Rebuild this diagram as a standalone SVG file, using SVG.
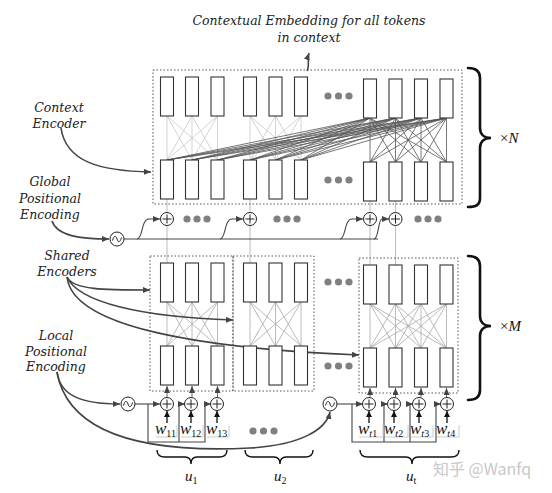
<svg xmlns="http://www.w3.org/2000/svg" width="552" height="493" viewBox="0 0 552 493">
<defs>
<style>
.lbl{font-family:"DejaVu Serif","Liberation Serif",serif;font-style:italic;font-size:12.5px;fill:#222;text-anchor:middle}
.math{font-family:"Liberation Serif",serif;font-style:italic;fill:#111}
.sub{font-family:"Liberation Serif",serif;font-style:normal;font-size:10px}
.blk{fill:#fff;stroke:#333;stroke-width:1.1}
.dbox{fill:none;stroke:#444;stroke-width:0.9;stroke-dasharray:1.5,2}
.dot{fill:#808080}
.lt{fill:none;stroke:#c8c8c8;stroke-width:0.8}
.md{fill:none;stroke:#aaa;stroke-width:0.8}
.dk{fill:none;stroke:#555;stroke-width:0.8}
.wire{fill:none;stroke:#444;stroke-width:1.1}
.curve{fill:none;stroke:#444;stroke-width:1.6}
.brace{fill:none;stroke:#111;stroke-width:2.6;stroke-linecap:round}
.ubrace{fill:none;stroke:#111;stroke-width:1.4}
.plus{fill:#fff;stroke:#222;stroke-width:1}
.shade{fill:none;stroke:#ccc;stroke-width:1}
</style>
<marker id="ah" markerWidth="7" markerHeight="6" refX="7" refY="3" orient="auto" markerUnits="userSpaceOnUse"><path d="M0,0L7,3L0,6z" fill="#444"/></marker>
<marker id="ahb" markerWidth="6" markerHeight="6" refX="6" refY="3" orient="auto" markerUnits="userSpaceOnUse"><path d="M0,0L6,3L0,6z" fill="#111"/></marker>
<g id="op"><circle r="6.5" class="plus"/><path d="M-4.5,0H4.5M0,-4.5V4.5" stroke="#222" stroke-width="1"/></g>
<g id="sine"><circle r="7" class="plus"/><path d="M-4.5,1.5C-3,-4 -1,-3.5 0,0C1,3.5 3,4 4.5,-1.5" fill="none" stroke="#222" stroke-width="1"/></g>
</defs>
<rect width="552" height="493" fill="#fff"/>

<g id="connectors">
<!-- top encoder internal -->
<path class="lt" d="M167,160L167,116M167,160L192,116M167,160L217.5,116M192,160L167,116M192,160L192,116M192,160L217.5,116M217.5,160L167,116M217.5,160L192,116M217.5,160L217.5,116"/>
<path class="lt" d="M250,160L250,116M250,160L275.5,116M250,160L301,116M275.5,160L250,116M275.5,160L275.5,116M275.5,160L301,116M301,160L250,116M301,160L275.5,116M301,160L301,116"/>
<path class="dk" d="M370,162L370,118M370,162L395.5,118M370,162L421,118M370,162L446.5,118M395.5,162L370,118M395.5,162L395.5,118M395.5,162L421,118M395.5,162L446.5,118M421,162L370,118M421,162L395.5,118M421,162L421,118M421,162L446.5,118M446.5,162L370,118M446.5,162L395.5,118M446.5,162L421,118M446.5,162L446.5,118"/>
<path class="dk" d="M370,118L167,160M370,118L192,160M370,118L217.5,160M370,118L250,160M370,118L275.5,160M370,118L301,160M395.5,118L167,160M395.5,118L192,160M395.5,118L217.5,160M395.5,118L250,160M395.5,118L275.5,160M395.5,118L301,160M421,118L167,160M421,118L192,160M421,118L217.5,160M421,118L250,160M421,118L275.5,160M421,118L301,160M446.5,118L167,160M446.5,118L192,160M446.5,118L217.5,160M446.5,118L250,160M446.5,118L275.5,160M446.5,118L301,160"/>
<!-- lower encoders internal -->
<path class="md" d="M167,346L167,302M167,346L192,302M167,346L217.5,302M192,346L167,302M192,346L192,302M192,346L217.5,302M217.5,346L167,302M217.5,346L192,302M217.5,346L217.5,302"/>
<path class="md" d="M250,346L250,302M250,346L275.5,302M250,346L301,302M275.5,346L250,302M275.5,346L275.5,302M275.5,346L301,302M301,346L250,302M301,346L275.5,302M301,346L301,302"/>
<path class="md" d="M370,348L370,304M370,348L395.5,304M370,348L421,304M370,348L446.5,304M395.5,348L370,304M395.5,348L395.5,304M395.5,348L421,304M395.5,348L446.5,304M421,348L370,304M421,348L395.5,304M421,348L421,304M421,348L446.5,304M446.5,348L370,304M446.5,348L395.5,304M446.5,348L421,304M446.5,348L446.5,304"/>
<!-- vertical links between encoders -->
<path class="md" d="M167,199V263M250,199V263M370,201V265M395.5,201V265"/>
<!-- global positional wiring -->
<path class="wire" d="M124,239H378"/>
<path class="wire" marker-end="url(#ah)" d="M137,239C143,239 141,219 149,219H160"/>
<path class="wire" marker-end="url(#ah)" d="M220,239C226,239 224,219 232,219H243"/>
<path class="wire" marker-end="url(#ah)" d="M340,239C346,239 344,219 352,219H363"/>
<path class="wire" marker-end="url(#ah)" d="M374,239C379,239 378,219 382,219H389"/>
<!-- local positional wiring u1 -->
<path class="wire" marker-end="url(#ah)" d="M135,404H160"/>
<path class="wire" d="M148,404V442H205V404M179,442V404"/>
<path class="wire" marker-end="url(#ah)" d="M179,404H185"/>
<path class="wire" marker-end="url(#ah)" d="M205,404H211"/>
<!-- local positional wiring ut -->
<path class="wire" marker-end="url(#ah)" d="M337,404H363"/>
<path class="wire" d="M352,404V442H436V404M384,442V404M410,442V404"/>
<path class="wire" marker-end="url(#ah)" d="M384,404H388"/>
<path class="wire" marker-end="url(#ah)" d="M410,404H413"/>
<path class="wire" marker-end="url(#ah)" d="M436,404H441"/>
<!-- word inputs up to plus -->
<g stroke="#111" stroke-width="1.3" marker-end="url(#ahb)">
<path d="M167,423V411"/><path d="M191,423V411"/><path d="M217,423V411"/>
<path d="M369,423V411"/><path d="M394,423V411"/><path d="M419,423V411"/><path d="M447,423V411"/>
</g>
<!-- plus up to encoder blocks -->
<g stroke="#666" stroke-width="1" marker-end="url(#ah)">
<path d="M167,397V386"/><path d="M192,397V386"/><path d="M217.5,397V386"/>
<path d="M370,397V388"/><path d="M395.5,397V388"/><path d="M421,397V388"/><path d="M446.5,397V388"/>
</g>
<!-- label curves -->
<path class="curve" marker-end="url(#ah)" d="M61,128C66,162 100,171 151,172"/>
<path class="curve" marker-end="url(#ah)" d="M52,221C57,236 80,239 109,239"/>
<path class="curve" marker-end="url(#ah)" d="M67,277C73,290 105,290 150,290"/>
<path class="curve" marker-end="url(#ah)" d="M67,277C78,302 140,317 233,320"/>
<path class="curve" marker-end="url(#ah)" d="M67,277C72,325 190,348 359,355"/>
<path class="curve" marker-end="url(#ah)" d="M57,372C60,395 80,404 120,404"/>
<path class="curve" marker-end="url(#ah)" d="M57,372C70,445 170,452 250,448C300,445 326,430 330,412"/>
<path class="curve" stroke-width="1.3" marker-end="url(#ah)" d="M307,71C310,65 307,59 309,53"/>
</g>

<g id="title">
<text class="lbl" x="309" y="25">Contextual Embedding for all tokens</text>
<text class="lbl" x="309" y="42">in context</text>
</g>
<g id="label-context-encoder">
<text class="lbl" x="59" y="112">Context</text>
<text class="lbl" x="59" y="128">Encoder</text>
</g>
<g id="label-global-pe">
<text class="lbl" x="50" y="186">Global</text>
<text class="lbl" x="50" y="203">Positional</text>
<text class="lbl" x="50" y="219">Encoding</text>
</g>
<g id="label-shared">
<text class="lbl" x="67" y="260">Shared</text>
<text class="lbl" x="67" y="276">Encoders</text>
</g>
<g id="label-local-pe">
<text class="lbl" x="56" y="340">Local</text>
<text class="lbl" x="56" y="356">Positional</text>
<text class="lbl" x="56" y="371">Encoding</text>
</g>

<g id="context-encoder">
<rect class="dbox" x="153" y="70" width="309" height="134"/>
<g>
<rect class="blk" x="160.5" y="77" width="13" height="39"/><rect class="blk" x="185.5" y="77" width="13" height="39"/><rect class="blk" x="211" y="77" width="13" height="39"/>
<rect class="blk" x="243.5" y="77" width="13" height="39"/><rect class="blk" x="269" y="77" width="13" height="39"/><rect class="blk" x="294.5" y="77" width="13" height="39"/>
<rect class="blk" x="363.5" y="79" width="13" height="39"/><rect class="blk" x="389" y="79" width="13" height="39"/><rect class="blk" x="414.5" y="79" width="13" height="39"/><rect class="blk" x="440" y="79" width="13" height="39"/>
</g>
<g>
<rect class="blk" x="160.5" y="160" width="13" height="39"/><rect class="blk" x="185.5" y="160" width="13" height="39"/><rect class="blk" x="211" y="160" width="13" height="39"/>
<rect class="blk" x="243.5" y="160" width="13" height="39"/><rect class="blk" x="269" y="160" width="13" height="39"/><rect class="blk" x="294.5" y="160" width="13" height="39"/>
<rect class="blk" x="363.5" y="162" width="13" height="39"/><rect class="blk" x="389" y="162" width="13" height="39"/><rect class="blk" x="414.5" y="162" width="13" height="39"/><rect class="blk" x="440" y="162" width="13" height="39"/>
</g>
<circle class="dot" cx="328" cy="96" r="3.6"/><circle class="dot" cx="338.5" cy="96" r="3.6"/><circle class="dot" cx="349" cy="96" r="3.6"/>
<circle class="dot" cx="328" cy="180" r="3.6"/><circle class="dot" cx="338.5" cy="180" r="3.6"/><circle class="dot" cx="349" cy="180" r="3.6"/>
</g>

<g id="global-pe">
<use href="#sine" x="117" y="239"/>
<use href="#op" x="167" y="219"/>
<use href="#op" x="250" y="219"/>
<use href="#op" x="370" y="219"/>
<use href="#op" x="395.5" y="219"/>
<circle class="dot" cx="187" cy="219" r="3.6"/><circle class="dot" cx="197" cy="219" r="3.6"/><circle class="dot" cx="207" cy="219" r="3.6"/>
<circle class="dot" cx="277" cy="219" r="3.6"/><circle class="dot" cx="287" cy="219" r="3.6"/><circle class="dot" cx="297" cy="219" r="3.6"/>
<circle class="dot" cx="418" cy="219" r="3.6"/><circle class="dot" cx="428" cy="219" r="3.6"/><circle class="dot" cx="438" cy="219" r="3.6"/>
</g>

<g id="shared-encoder-1">
<rect class="dbox" x="150" y="256" width="83" height="135"/>
<rect class="blk" x="160.5" y="263" width="13" height="39"/><rect class="blk" x="185.5" y="263" width="13" height="39"/><rect class="blk" x="211" y="263" width="13" height="39"/>
<rect class="blk" x="160.5" y="346" width="13" height="39"/><rect class="blk" x="185.5" y="346" width="13" height="39"/><rect class="blk" x="211" y="346" width="13" height="39"/>
</g>
<g id="shared-encoder-2">
<rect class="dbox" x="233" y="256" width="81" height="135"/>
<rect class="blk" x="243.5" y="263" width="13" height="39"/><rect class="blk" x="269" y="263" width="13" height="39"/><rect class="blk" x="294.5" y="263" width="13" height="39"/>
<rect class="blk" x="243.5" y="346" width="13" height="39"/><rect class="blk" x="269" y="346" width="13" height="39"/><rect class="blk" x="294.5" y="346" width="13" height="39"/>
</g>
<g id="shared-dots">
<circle class="dot" cx="328" cy="282" r="3.6"/><circle class="dot" cx="338.5" cy="282" r="3.6"/><circle class="dot" cx="349" cy="282" r="3.6"/>
<circle class="dot" cx="328" cy="366" r="3.6"/><circle class="dot" cx="338.5" cy="366" r="3.6"/><circle class="dot" cx="349" cy="366" r="3.6"/>
</g>
<g id="shared-encoder-t">
<rect class="dbox" x="359" y="258" width="99" height="135"/>
<rect class="blk" x="363.5" y="265" width="13" height="39"/><rect class="blk" x="389" y="265" width="13" height="39"/><rect class="blk" x="414.5" y="265" width="13" height="39"/><rect class="blk" x="440" y="265" width="13" height="39"/>
<rect class="blk" x="363.5" y="348" width="13" height="39"/><rect class="blk" x="389" y="348" width="13" height="39"/><rect class="blk" x="414.5" y="348" width="13" height="39"/><rect class="blk" x="440" y="348" width="13" height="39"/>
</g>

<g id="local-pe">
<use href="#sine" x="128" y="404"/>
<use href="#sine" x="330" y="404"/>
<use href="#op" x="167" y="404"/><use href="#op" x="191" y="404"/><use href="#op" x="217" y="404"/>
<use href="#op" x="369" y="404"/><use href="#op" x="394" y="404"/><use href="#op" x="419" y="404"/><use href="#op" x="447" y="404"/>
</g>

<g id="words-u1">
<path class="shade" d="M156,437H177V425M181,437H203V425M207,437H229V425"/>
<text class="math" font-size="17" x="155" y="434">w<tspan class="sub" dy="3">11</tspan></text>
<text class="math" font-size="17" x="180" y="434">w<tspan class="sub" dy="3">12</tspan></text>
<text class="math" font-size="17" x="206" y="434">w<tspan class="sub" dy="3">13</tspan></text>
<circle class="dot" cx="253" cy="431" r="3.6"/><circle class="dot" cx="263.5" cy="431" r="3.6"/><circle class="dot" cx="274" cy="431" r="3.6"/>
</g>
<g id="words-ut">
<path class="shade" d="M359,437H383V425M385,437H408V425M411,437H433V425M437,437H459V425"/>
<text class="math" font-size="17" x="358" y="434">w<tspan class="sub" dy="3"><tspan font-style="italic">t</tspan>1</tspan></text>
<text class="math" font-size="17" x="384" y="434">w<tspan class="sub" dy="3"><tspan font-style="italic">t</tspan>2</tspan></text>
<text class="math" font-size="17" x="410" y="434">w<tspan class="sub" dy="3"><tspan font-style="italic">t</tspan>3</tspan></text>
<text class="math" font-size="17" x="436" y="434">w<tspan class="sub" dy="3"><tspan font-style="italic">t</tspan>4</tspan></text>
</g>

<g id="utterance-braces">
<path class="ubrace" d="M157,450C157,455 160,457 165,457H185C189,457 191,459 191,464C191,459 193,457 197,457H219C224,457 227,455 227,450"/>
<path class="ubrace" d="M245,450C245,455 248,457 253,457H274C278,457 280,459 280,464C280,459 282,457 286,457H305C310,457 313,455 313,450"/>
<path class="ubrace" d="M360,450C360,455 363,457 368,457H406C410,457 412,459 412,464C412,459 414,457 418,457H451C456,457 459,455 459,450"/>
<text class="math" font-size="15" x="185" y="481">u<tspan class="sub" dy="3">1</tspan></text>
<text class="math" font-size="15" x="274" y="481">u<tspan class="sub" dy="3">2</tspan></text>
<text class="math" font-size="15" x="406" y="481">u<tspan class="sub" dy="3" font-style="italic">t</tspan></text>
</g>

<g id="repeat-N">
<path class="brace" d="M468,68C476,68 480,71 480,78V128C480,134 484,138 491,138C484,138 480,142 480,148V198C480,205 476,207 468,207"/>
<text x="500" y="143" font-family="Liberation Serif,serif" font-size="15" fill="#111">×<tspan font-style="italic">N</tspan></text>
</g>
<g id="repeat-M">
<path class="brace" d="M468,256C476,256 480,259 480,266V316C480,322 484,326 491,326C484,326 480,330 480,336V390C480,397 476,400 468,400"/>
<text x="500" y="331" font-family="Liberation Serif,serif" font-size="15" fill="#111">×<tspan font-style="italic">M</tspan></text>
</g>

<g id="watermark">
<text x="433" y="475" font-family="Noto Sans CJK SC,Noto Sans,sans-serif" font-size="16" fill="#c8c8c8">知乎 @Wanfq</text>
</g>
</svg>
